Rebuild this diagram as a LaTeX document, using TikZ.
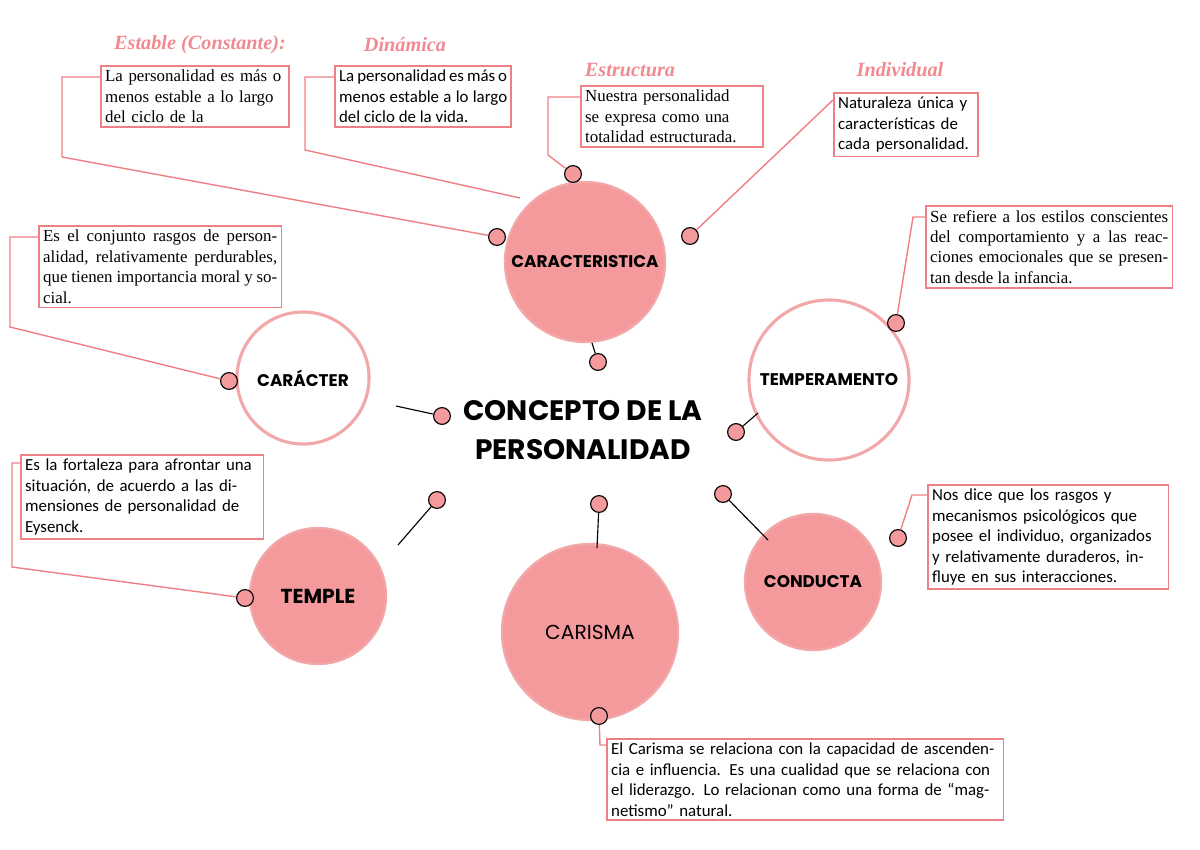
\documentclass[tikz,border=0pt]{standalone}
\usepackage{fontspec}
\setmainfont{Liberation Serif}
\newfontfamily\calfam{Carlito}
\newfontfamily\handfam{Poppins}
\definecolor{pk}{HTML}{F59A9C}
\definecolor{pkb}{HTML}{F2A7A8}
\definecolor{pkl}{HTML}{EE7F84}
\definecolor{pkt}{HTML}{F08A90}
\begin{document}
\begin{tikzpicture}[x=0.025cm,y=-0.025cm,
  big/.style={circle,draw=pkb,line width=1.6pt,minimum size=#1*0.05cm,inner sep=0pt,font=\handfam\bfseries\large},
  pin/.style={circle,draw=black,line width=0.8pt,fill=pk,minimum size=0.42cm,inner sep=0pt},
  box/.style={draw=pkl,line width=1.3pt,anchor=north west,inner sep=3pt,align=justify,font=\fontsize{12}{14.5}\selectfont},
  sbox/.style={box,font=\calfam\fontsize{12}{14.5}\selectfont},
  conn/.style={draw=pkl,line width=1pt},
  dk/.style={line width=0.8pt},
  ttl/.style={text=pkt,font=\bfseries\itshape\Large}]
\useasboundingbox (0,0) rectangle (1200,849);
% circles
\node[big=80,fill=pk] (car) at (585,262) {CARACTERISTICA};
\node[big=66,fill=white,line width=2.2pt] (cara) at (303,378) {CARÁCTER};
\node[big=80,fill=white,line width=2.2pt] (temp) at (829,380) {TEMPERAMENTO};
\node[big=68,fill=pk] (tem) at (318,596) {\Large TEMPLE};
\node[big=88,fill=pk] (cari) at (590,632) {\mdseries\Large CARISMA};
\node[big=68,fill=pk] (cond) at (813,582) {CONDUCTA};
\node[font=\handfam\bfseries\fontsize{20}{28}\selectfont,align=center] (cen) at (583,430) {CONCEPTO DE LA\\PERSONALIDAD};
% pins
\foreach \n/\x/\y in {p1/573/174,p2/598/362,p3/497/237,p4/690/236,p5/896/323,p6/736/432,p7/442/416,p8/229/381,p9/437/500,p10/245/598,p11/599/504,p12/599/716,p13/723/494,p14/898/538}
  \node[pin] (\n) at (\x,\y) {};
\coordinate (q7) at (396,406); \coordinate (q9) at (398,545);
\coordinate (q11) at (597,548); \coordinate (q13) at (768,540);
\coordinate (q6) at (758,413); \coordinate (q2) at (592,343);
\draw[dk] (p7)--(q7); \draw[dk] (p9)--(q9); \draw[dk] (p11)--(q11);
\draw[dk] (p13)--(q13); \draw[dk] (p6)--(q6); \draw[dk] (p2)--(q2);
% titles
\node[ttl] (t1) at (200,45) {Estable (Constante):};
\node[ttl] (t2) at (405,45) {Dinámica};
\node[ttl] (t3) at (630,70) {Estructura};
\node[ttl] (t4) at (900,70) {Individual};
% boxes
\node[box,text width=4.5cm,align=left] (b1) at (100,65) {La personalidad es más o menos estable a lo largo del ciclo de la};
\node[sbox,text width=4.2cm] (b2) at (334,65) {La personalidad es más o menos estable a lo largo del ciclo de la vida.};
\node[box,text width=4.35cm,align=left] (b3) at (580,85) {Nuestra personalidad se expresa como una totalidad estructurada.};
\node[sbox,text width=3.4cm,align=left] (b4) at (833,92) {Naturaleza única y características de cada personalidad.};
\node[box,text width=5.95cm] (b5) at (925,205) {Se refiere a los estilos conscientes del comportamiento y a las reacciones emocionales que se presentan desde la infancia.};
\node[box,text width=5.85cm] (b6) at (38,225) {Es el conjunto rasgos de personalidad, relativamente perdurables, que tienen importancia moral y social.};
\node[sbox,text width=5.85cm,align=left] (b7) at (20,454) {Es la fortaleza para afrontar una situación, de acuerdo a las dimensiones de personalidad de Eysenck.};
\node[sbox,text width=5.8cm,align=left] (b8) at (927,484) {Nos dice que los rasgos y mecanismos psicológicos que posee el individuo, organizados y relativamente duraderos, influye en sus interacciones.};
\node[sbox,text width=9.7cm,align=left] (b9) at (606,738) {El Carisma se relaciona con la capacidad de ascendencia e influencia. Es una cualidad que se relaciona con el liderazgo. Lo relacionan como una forma de “magnetismo” natural.};
% connectors
\coordinate (c1) at (520,198);
\draw[conn] (b1.north west)++(0,12) -- ++(-38,0) -- (62,157) -- (p3);
\draw[conn] (b2.north west)++(0,12) -- ++(-29,0) -- (305,150) -- (c1);
\draw[conn] (b3.north west)++(0,12) -- ++(-32,0) -- (548,155) -- (p1);
\draw[conn] (b4.north west)++(0,8) -- (p4);
\draw[conn] (b5.north west)++(0,12) -- ++(-12,0) -- (p5);
\draw[conn] (b6.north west)++(0,12) -- ++(-28,0) -- (10,327) -- (p8);
\draw[conn] (b7.north west)++(0,9) -- ++(-8,0) -- (12,567) -- (p10);
\draw[conn] (b8.north west)++(0,11) -- ++(-15,0) -- (p14);
\draw[conn] (b9.north west)++(0,7) -- ++(-6,0) -- (p12);
\end{tikzpicture}
\end{document}
